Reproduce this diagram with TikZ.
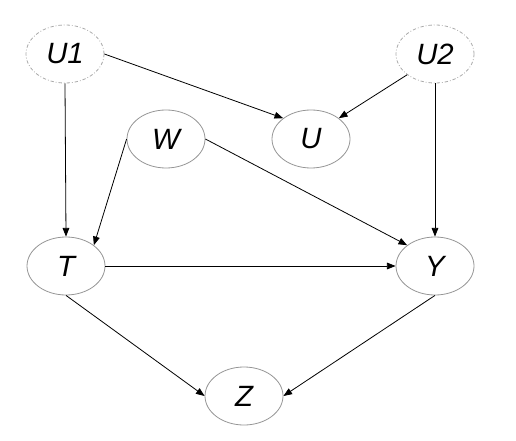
\documentclass[tikz,border=0pt]{standalone}
\usepackage{fontspec}
\setmainfont{Liberation Sans}
\usetikzlibrary{shapes.geometric}
\usetikzlibrary{arrows.meta}

\tikzset{
  var/.style={ellipse, draw={rgb,255:red,150;green,150;blue,150}, line width=0.6pt,
    minimum width=58.5pt, minimum height=43.5pt, inner sep=0pt,
    font=\fontsize{22}{26}\selectfont\itshape},
  latent/.style={var, draw={rgb,255:red,170;green,170;blue,170},
    dash pattern={on 2.5pt off 1.5pt on 0.6pt off 1.5pt}},
  link/.style={line width=0.6pt, -{Triangle[length=6.5pt,width=5pt]}}
}

\begin{document}
\begin{tikzpicture}[x=0.75pt,y=0.75pt,yscale=-1,xscale=1]
\useasboundingbox (0,0) rectangle (516,441);

% Text Node
\node [latent] (u1) at (65,54) {U1};
\node [latent] (u2) at (435,54) {U2};
\node [var] (w) at (166,139) {W};
\node [var] (u) at (311,139) {U};
\node [var] (t) at (66,266) {T};
\node [var] (y) at (435,266) {Y};
\node [var] (z) at (244,396) {Z};

%Straight Lines
\draw [link] (u1.east) -- (u.north west);
\draw [link] (u2.south west) -- (u.north east);
\draw [link] (u1.south) -- (t.north);
\draw [link] (u2.south) -- (y.north);
\draw [link] (w.west) -- (t.north east);
\draw [link] (w.east) -- (y.north west);
\draw [link] (t.east) -- (y.west);
\draw [link] (t.south) -- (z.west);
\draw [link] (y.south) -- (z.east);

\end{tikzpicture}
\end{document}
